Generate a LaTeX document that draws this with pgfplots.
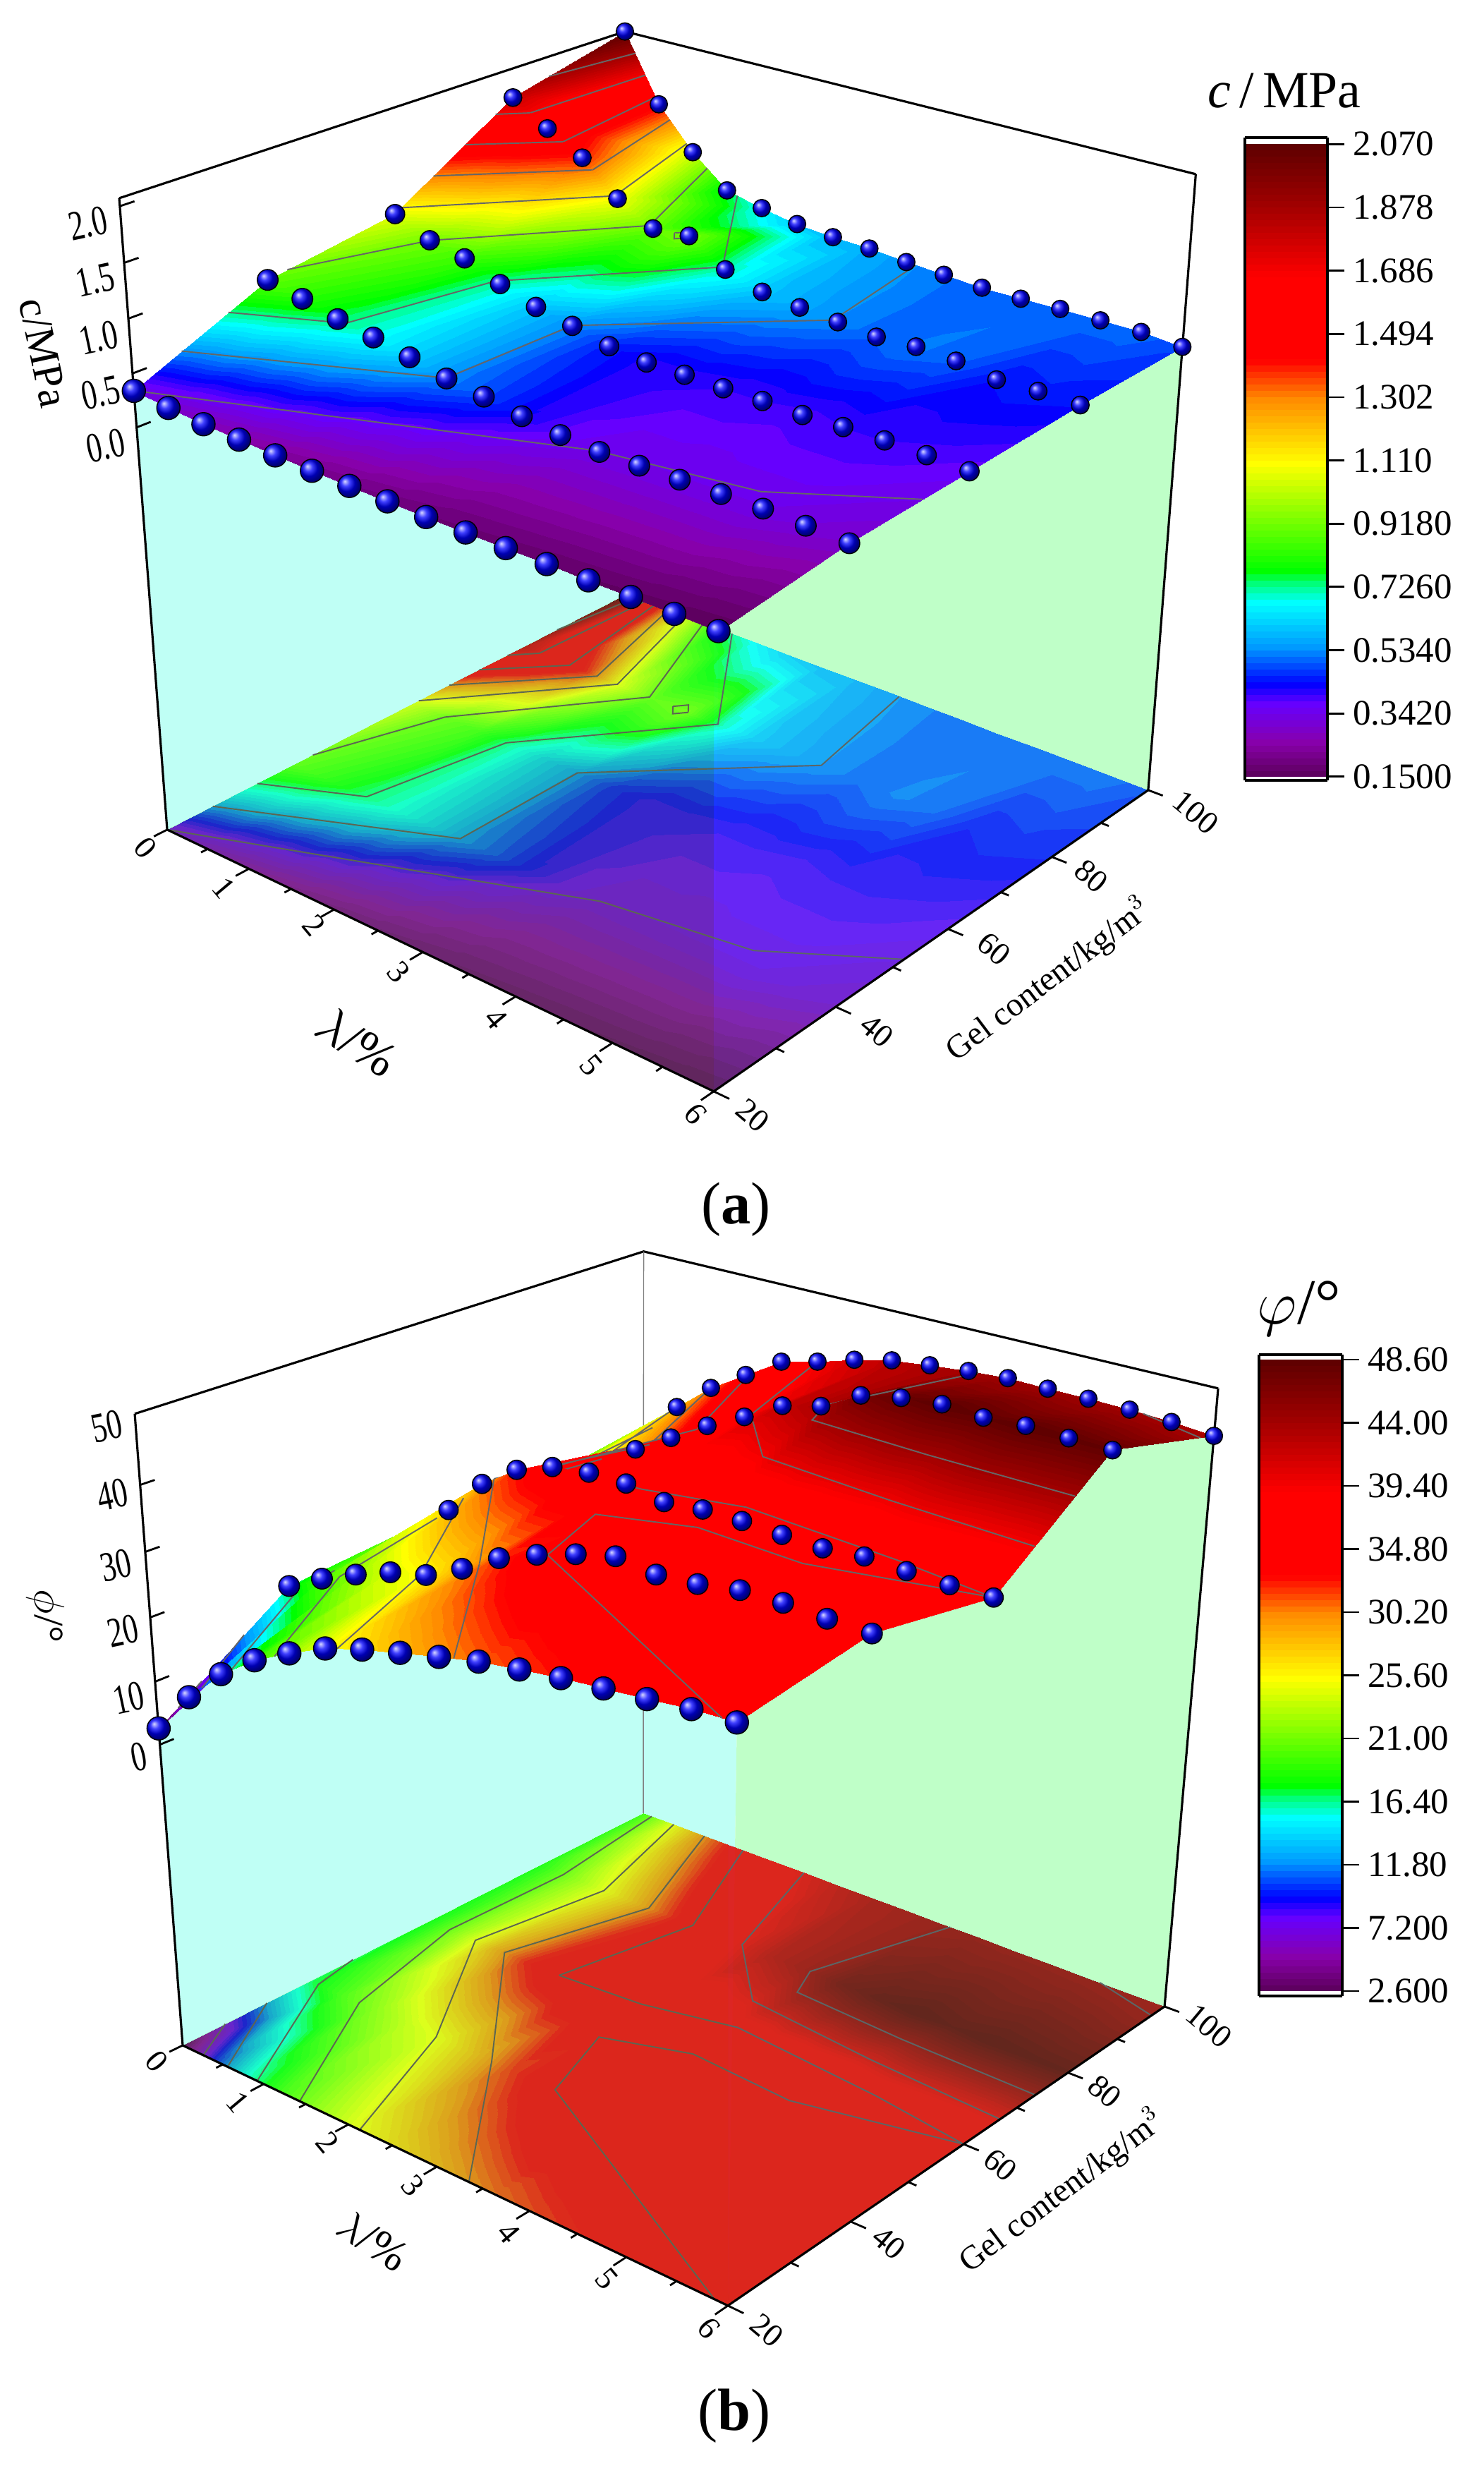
\documentclass[border=0pt]{standalone}
\usepackage{fontspec}
\setmainfont{Liberation Serif}
\usepackage{pgfplots}
\usepackage{pgfplotstable}
\pgfplotsset{compat=1.18}

% cohesion c/MPa, gel content from the back row to the front row
\pgfplotstableread{
l g c
0.0 100 2.07
0.4 100 1.43
0.8 100 1.04
1.2 100 0.75
1.6 100 0.67
2.0 100 0.61
2.4 100 0.58
2.8 100 0.57
3.2 100 0.54
3.6 100 0.52
4.0 100 0.50
4.4 100 0.50
4.8 100 0.51
5.2 100 0.51
5.6 100 0.51
6.0 100 0.48
0.0 80 1.79
0.4 80 1.58
0.8 80 1.39
1.2 80 1.09
1.6 80 0.90
2.0 80 0.93
2.4 80 0.71
2.8 80 0.60
3.2 80 0.56
3.6 80 0.53
4.0 80 0.50
4.4 80 0.52
4.8 80 0.50
5.2 80 0.44
5.6 80 0.45
6.0 80 0.44
0.0 60 1.07
0.4 60 0.92
0.8 60 0.85
1.2 60 0.71
1.6 60 0.60
2.0 60 0.53
2.4 60 0.45
2.8 60 0.41
3.2 60 0.41
3.6 60 0.40
4.0 60 0.40
4.4 60 0.39
4.8 60 0.40
5.2 60 0.40
5.6 60 0.39
6.0 60 0.37
0.0 40 0.89
0.4 40 0.82
0.8 40 0.74
1.2 40 0.68
1.6 40 0.61
2.0 40 0.53
2.4 40 0.48
2.8 40 0.42
3.2 40 0.37
3.6 40 0.34
4.0 40 0.34
4.4 40 0.34
4.8 40 0.34
5.2 40 0.34
5.6 40 0.32
6.0 40 0.30
0.0 20 0.34
0.4 20 0.30
0.8 20 0.27
1.2 20 0.25
1.6 20 0.23
2.0 20 0.215
2.4 20 0.205
2.8 20 0.195
3.2 20 0.185
3.6 20 0.18
4.0 20 0.175
4.4 20 0.17
4.8 20 0.165
5.2 20 0.16
5.6 20 0.155
6.0 20 0.15
}\dataA

% friction angle phi/degree
\pgfplotstableread{
l g c
0.0 100 19.2
0.4 100 25.7
0.8 100 30.5
1.2 100 34.2
1.6 100 37.9
2.0 100 39.4
2.4 100 41.2
2.8 100 42.6
3.2 100 43.3
3.6 100 43.9
4.0 100 44.3
4.4 100 44.2
4.8 100 44.2
5.2 100 44.1
5.6 100 43.8
6.0 100 43.3
0.0 80 18.0
0.4 80 22.0
0.8 80 25.5
1.2 80 28.8
1.6 80 32.3
2.0 80 35.8
2.4 80 38.8
2.8 80 42.1
3.2 80 43.6
3.6 80 46.8
4.0 80 48.0
4.4 80 48.6
4.8 80 48.2
5.2 80 48.6
5.6 80 48.4
6.0 80 48.3
0.0 60 17.5
0.4 60 22.9
0.8 60 28.8
1.2 60 32.7
1.6 60 34.8
2.0 60 35.6
2.4 60 35.6
2.8 60 34.5
3.2 60 35.1
3.6 60 35.1
4.0 60 34.8
4.4 60 34.6
4.8 60 35.2
5.2 60 34.9
5.6 60 34.7
6.0 60 34.8
0.0 40 16.7
0.4 40 19.7
0.8 40 22.2
1.2 40 24.4
1.6 40 25.8
2.0 40 28.6
2.4 40 32.0
2.8 40 34.3
3.2 40 36.2
3.6 40 37.7
4.0 40 36.9
4.4 40 37.4
4.8 40 38.4
5.2 40 38.5
5.6 40 38.2
6.0 40 38.1
0.0 20 2.6
0.4 20 9.6
0.8 20 15.2
1.2 20 19.3
1.6 20 22.3
2.0 20 25.0
2.4 20 26.8
2.8 20 28.3
3.2 20 29.7
3.6 20 31.0
4.0 20 31.9
4.4 20 32.7
4.8 20 33.3
5.2 20 33.9
5.6 20 34.6
6.0 20 34.9
}\dataB

% contour lines at the colour-scale ticks
\pgfplotstableread{
l g v
0 20 0.342
3.57 40 0.342
5.0 43 0.342
6 52 0.342
nan nan nan
0 27 0.534
2.0 40 0.534
2.0 60 0.534
3.55 80 0.534
3.3 100 0.534
nan nan nan
0 34 0.726
0.89 40 0.726
1.15 60 0.726
2.37 80 0.726
1.32 100 0.726
nan nan nan
0 43 0.918
0.4 60 0.918
1.56 80 0.918
0.97 100 0.918
nan nan nan
1.84 80 0.918
1.93 78.5 0.918
2.02 80 0.918
nan nan nan
2.02 80 0.918
1.93 81.5 0.918
1.84 80 0.918
nan nan nan
0 61 1.11
1.17 80 1.11
0.73 100 1.11
nan nan nan
0 66.4 1.302
0.92 80 1.302
0.53 100 1.302
nan nan nan
0 71.8 1.494
0.58 80 1.494
0.36 100 1.494
nan nan nan
0 77 1.686
0.2 80 1.686
0.24 100 1.686
nan nan nan
0 86.3 1.878
0.12 100 1.878
}\contA

\pgfplotstableread{
l g v
0.26 20 7.2
0 26.5 7.2
nan nan nan
0.56 20 11.8
0 33 11.8
nan nan nan
0.92 20 16.4
0.1 40 16.4
0 47 16.4
nan nan nan
1.43 20 21
0.61 40 21
0.26 60 21
0.3 80 21
0.11 100 21
nan nan nan
2.13 20 25.6
1.54 40 25.6
0.58 60 25.6
0.81 80 25.6
0.39 100 25.6
nan nan nan
3.35 20 30.2
2.19 40 30.2
0.94 60 30.2
1.36 80 30.2
0.78 100 30.2
nan nan nan
5.87 20 34.8
2.91 40 34.8
2.6 52 34.8
3.4 56 34.8
4.5 55 34.8
6 60 34.8
nan nan nan
1.26 100 34.8
1.89 80 34.8
1.6 60 34.8
nan nan nan
1.6 60 34.8
2.5 61 34.8
3.4 64 34.8
5 62 34.8
6 60 34.8
nan nan nan
2.0 100 39.4
2.47 80 39.4
3.2 70 39.4
4.6 68 39.4
6 66.8 39.4
nan nan nan
3.7 100 44
3.25 80 44
3.4 75 44
4.6 74 44
6 73.6 44
nan nan nan
5.33 100 44
6 97.2 44
}\contB

\pgfplotsset{
  colormap={originbase}{
    rgb255(0)=(94,0,96) rgb255(95)=(136,0,170) rgb255(215)=(102,0,255)
    rgb255(275)=(0,0,255) rgb255(387)=(0,153,255) rgb255(523)=(0,255,255)
    rgb255(583)=(0,255,120) rgb255(620)=(0,255,0) rgb255(950)=(255,255,0)
    rgb255(1146)=(255,140,0) rgb255(1266)=(255,0,0) rgb255(1520)=(255,0,0)
    rgb255(1730)=(165,0,0) rgb255(1920)=(96,0,0)},
  colormap={origin}{samples of colormap=(100 of originbase)},
  bands/.style={surf,shader=interp,mesh/cols=16,point meta=\thisrow{c},colormap access=piecewise constant},
  strip/.style n args={2}{bands,skip coords between index={0}{#1},skip coords between index={#2}{80}},
  balls/.style n args={3}{only marks,mark=ball,mark size=#3,
    mark options={ball color=blue,draw=none},
    skip coords between index={0}{#1},skip coords between index={#2}{80}},
  con/.style 2 args={restrict y to domain=#1:#2,unbounded coords=jump,black!60,line width=0.55pt,mark=none},
  cube/.style={at={(0,0)},anchor=origin,hide axis,clip=false,disabledatascaling,
    x={(1.2cm,-0.5cm)},y={(0.08cm,0.05cm)},z={(0cm,1cm)},
    xmin=0,xmax=6,ymin=0,ymax=100,colormap name=origin,
    mesh/ordering=x varies,z buffer=none},
  tk/.style={black,line width=0.8pt,mark=none},
  cbar/.style={scale only axis,anchor=south west,xmin=0,xmax=1,xtick=\empty,
    view={0}{90},colormap name=origin,colormap access=piecewise constant,
    ytick pos=right,yticklabel pos=right,tick align=outside,
    major tick length=0.24cm,tick style={black,line width=0.8pt},
    axis line style={line width=1.4pt},
    yticklabel style={font=\fontsize{14.5}{16}\selectfont},
  },
}

% pin-hole camera of the two cubes, fitted on the corners of the reference (pixels)
\makeatletter
\newcommand\camA[3]{\begingroup
  \pgfmathsetmacro\cu{(#1)/6}\pgfmathsetmacro\cv{((#2)-20)/80}\pgfmathsetmacro\ct{((#3)+3.99)/6.06}%
  \pgfmathsetmacro\cw{1-.1206*\cu+.1493*\cv-.09*\ct}%
  \pgfmathsetmacro\cx{.28453*(237+652.9*\cu+784.7*\cv-83.2*\ct)/\cw}%
  \pgfmathsetmacro\cy{.28453*(3498-(1176+184.4*\cu-208.3*\cv-920.3*\ct)/\cw)}%
  \global\pgf@x=\cx pt\global\pgf@y=\cy pt\endgroup}
\newcommand\camB[3]{\begingroup
  \pgfmathsetmacro\cu{(#1)/6}\pgfmathsetmacro\cv{((#2)-20)/80}\pgfmathsetmacro\ct{((#3)+50.6)/101}%
  \pgfmathsetmacro\cw{1-.12608*\cu+.15161*\cv-.095*\ct}%
  \pgfmathsetmacro\cx{.28453*(259+642.9*\cu+791.3*\cv-86.1*\ct)/\cw}%
  \pgfmathsetmacro\cy{.28453*(3498-(2899-43*\cu+60.6*\cv-1085.4*\ct)/\cw)}%
  \global\pgf@x=\cx pt\global\pgf@y=\cy pt\endgroup}
\makeatother

\newcommand\lab[5][]{\node[inner sep=0pt,font=\fontsize{#5}{#5}\selectfont,rotate=#4,#1] at ({#2*0.01},{(3498-#3)*0.01})}
\definecolor{wallL}{RGB}{191,255,245}
\definecolor{wallR}{RGB}{191,255,200}
\definecolor{tintL}{RGB}{230,255,205}
\definecolor{tintR}{RGB}{230,255,255}

\begin{document}
\begin{tikzpicture}
\path[use as bounding box] (0,0) rectangle (21.03,34.98);

% ---------- (a)
\begin{axis}[cube,zmin=-3.99,zmax=2.07,point meta min=0.15,point meta max=2.07,
  execute at begin plot visualization={\let\pgfplotsqpointxyz\camA}]
\addplot3[black,line width=0.9pt,mark=none] coordinates {(0,20,2.07)(0,100,2.07)(6,100,2.07)};
% curtains under the front edges
\addplot3[draw=none,fill=wallL] coordinates {(0,20,0.34)(0.4,20,0.30)(0.8,20,0.27)(1.2,20,0.25)(1.6,20,0.23)(2,20,0.215)(2.4,20,0.205)(2.8,20,0.195)(3.2,20,0.185)(3.6,20,0.18)(4,20,0.175)(4.4,20,0.17)(4.8,20,0.165)(5.2,20,0.16)(5.6,20,0.155)(6,20,0.15)(6,20,-3.99)(0,20,-3.99)};
\addplot3[draw=none,fill=wallR] coordinates {(6,20,0.15)(6,40,0.30)(6,60,0.37)(6,80,0.44)(6,100,0.48)(6,100,-3.99)(6,20,-3.99)};
% floor, seen through the curtains
\addplot3[bands,opacity=0.85] table[x=l,y=g,z expr=-3.99]{\dataA};
\addplot3[con={0}{100}] table[x=l,y=g,z expr=-3.99]{\contA};
\addplot3[draw=none,fill=tintL,blend mode=multiply] coordinates {(0,20,-3.99)(6,20,-3.99)(1.095,100,-3.99)(0,100,-3.99)};
\addplot3[draw=none,fill=tintR,blend mode=multiply] coordinates {(6,20,-3.99)(6,100,-3.99)(1.095,100,-3.99)};
\addplot3[black,line width=0.9pt,mark=none] coordinates {(0,20,2.07)(0,20,-3.99)(6,20,-3.99)(6,100,-3.99)(6,100,2.07)};
% surface and spheres, back to front
\addplot3[balls={0}{16}{3.5pt}] table[x=l,y=g,z=c]{\dataA};
\addplot3[strip={0}{32}] table[x=l,y=g,z=c]{\dataA};
\addplot3[con={80}{100}] table[x=l,y=g,z=v]{\contA};
\addplot3[balls={16}{32}{3.6pt}] table[x=l,y=g,z=c]{\dataA};
\addplot3[strip={16}{48}] table[x=l,y=g,z=c]{\dataA};
\addplot3[con={60}{80}] table[x=l,y=g,z=v]{\contA};
\addplot3[balls={32}{48}{3.9pt}] table[x=l,y=g,z=c]{\dataA};
\addplot3[strip={32}{64}] table[x=l,y=g,z=c]{\dataA};
\addplot3[con={40}{60}] table[x=l,y=g,z=v]{\contA};
\addplot3[balls={48}{64}{4.2pt}] table[x=l,y=g,z=c]{\dataA};
\addplot3[strip={48}{80}] table[x=l,y=g,z=c]{\dataA};
\addplot3[con={20}{40}] table[x=l,y=g,z=v]{\contA};
\addplot3[balls={64}{80}{4.7pt}] table[x=l,y=g,z=c]{\dataA};
% ticks
\pgfplotsinvokeforeach{0,1,...,6}{\addplot3[tk] coordinates {(#1,20,-3.99)(#1,18,-3.99)};}
\pgfplotsinvokeforeach{0.5,1.5,...,5.5}{\addplot3[tk] coordinates {(#1,20,-3.99)(#1,19,-3.99)};}
\pgfplotsinvokeforeach{20,40,...,100}{\addplot3[tk] coordinates {(6,#1,-3.99)(6.15,#1,-3.99)};}
\pgfplotsinvokeforeach{30,50,...,90}{\addplot3[tk] coordinates {(6,#1,-3.99)(6.08,#1,-3.99)};}
\pgfplotsinvokeforeach{0,0.5,...,2}{\addplot3[tk] coordinates {(0,20,#1)(0,22,#1)};}
\end{axis}

% ---------- (b)
\begin{axis}[cube,zmin=-50.6,zmax=50.4,point meta min=2.6,point meta max=48.6,
  execute at begin plot visualization={\let\pgfplotsqpointxyz\camB}]
\addplot3[black,line width=0.9pt,mark=none] coordinates {(0,20,50.4)(0,100,50.4)(6,100,50.4)};
\addplot3[draw=none,fill=wallL] coordinates {(0,20,2.6)(0.4,20,9.6)(0.8,20,15.2)(1.2,20,19.3)(1.6,20,22.3)(2,20,25)(2.4,20,26.8)(2.8,20,28.3)(3.2,20,29.7)(3.6,20,31)(4,20,31.9)(4.4,20,32.7)(4.8,20,33.3)(5.2,20,33.9)(5.6,20,34.6)(6,20,34.9)(6,20,-50.6)(0,20,-50.6)};
\addplot3[draw=none,fill=wallR] coordinates {(6,20,34.9)(6,40,38.1)(6,60,34.8)(6,80,48.3)(6,100,43.3)(6,100,-50.6)(6,20,-50.6)};
\addplot3[bands,opacity=0.85] table[x=l,y=g,z expr=-50.6]{\dataB};
\addplot3[con={0}{100}] table[x=l,y=g,z expr=-50.6]{\contB};
\addplot3[draw=none,fill=tintL,blend mode=multiply] coordinates {(0,20,-50.6)(6,20,-50.6)(1.073,100,-50.6)(0,100,-50.6)};
\addplot3[draw=none,fill=tintR,blend mode=multiply] coordinates {(6,20,-50.6)(6,100,-50.6)(1.073,100,-50.6)};
\addplot3[black!50,line width=0.4pt,mark=none] coordinates {(0,100,-50.6)(0,100,50.4)};
\addplot3[black,line width=0.9pt,mark=none] coordinates {(0,20,50.4)(0,20,-50.6)(6,20,-50.6)(6,100,-50.6)(6,100,50.4)};
\addplot3[balls={1}{16}{3.5pt}] table[x=l,y=g,z=c]{\dataB};
\addplot3[strip={0}{32}] table[x=l,y=g,z=c]{\dataB};
\addplot3[con={80}{100}] table[x=l,y=g,z=v]{\contB};
\addplot3[balls={19}{32}{3.6pt}] table[x=l,y=g,z=c]{\dataB};
\addplot3[strip={16}{48}] table[x=l,y=g,z=c]{\dataB};
\addplot3[con={60}{80}] table[x=l,y=g,z=v]{\contB};
\addplot3[balls={33}{48}{3.9pt}] table[x=l,y=g,z=c]{\dataB};
\addplot3[strip={32}{64}] table[x=l,y=g,z=c]{\dataB};
\addplot3[con={40}{60}] table[x=l,y=g,z=v]{\contB};
\addplot3[balls={48}{64}{4.2pt}] table[x=l,y=g,z=c]{\dataB};
\addplot3[strip={48}{80}] table[x=l,y=g,z=c]{\dataB};
\addplot3[con={20}{40}] table[x=l,y=g,z=v]{\contB};
\addplot3[balls={64}{80}{4.7pt}] table[x=l,y=g,z=c]{\dataB};
\pgfplotsinvokeforeach{0,1,...,6}{\addplot3[tk] coordinates {(#1,20,-50.6)(#1,18,-50.6)};}
\pgfplotsinvokeforeach{0.5,1.5,...,5.5}{\addplot3[tk] coordinates {(#1,20,-50.6)(#1,19,-50.6)};}
\pgfplotsinvokeforeach{20,40,...,100}{\addplot3[tk] coordinates {(6,#1,-50.6)(6.15,#1,-50.6)};}
\pgfplotsinvokeforeach{30,50,...,90}{\addplot3[tk] coordinates {(6,#1,-50.6)(6.08,#1,-50.6)};}
\pgfplotsinvokeforeach{0,10,...,40}{\addplot3[tk] coordinates {(0,20,#1)(0,22,#1)};}
\end{axis}

% ---------- colour scales
\begin{axis}[cbar,at={(17.65cm,23.92cm)},width=1.17cm,height=9.11cm,ymin=0.139,ymax=2.09,
  point meta min=0.15,point meta max=2.07,
  ytick={0.15,0.342,0.534,0.726,0.918,1.11,1.302,1.494,1.686,1.878,2.07},
  yticklabels={0.1500,0.3420,0.5340,0.7260,0.9180,1.110,1.302,1.494,1.686,1.878,2.070}]
\addplot3[surf,shader=interp] coordinates {(0,0.15,0.15)(1,0.15,0.15)

(0,2.07,2.07)(1,2.07,2.07)};
\end{axis}
\begin{axis}[cbar,at={(17.85cm,6.69cm)},width=1.18cm,height=9.09cm,ymin=2.24,ymax=48.96,
  point meta min=2.6,point meta max=48.6,
  ytick={2.6,7.2,11.8,16.4,21,25.6,30.2,34.8,39.4,44,48.6},
  yticklabels={2.600,7.200,11.80,16.40,21.00,25.60,30.20,34.80,39.40,44.00,48.60}]
\addplot3[surf,shader=interp] coordinates {(0,2.6,2.6)(1,2.6,2.6)

(0,48.6,48.6)(1,48.6,48.6)};
\end{axis}

% ---------- text (a)
\lab[xscale=.72]{125}{315}{12}{17}{2.0};
\lab[xscale=.72]{135}{395}{12}{17}{1.5};
\lab[xscale=.72]{140}{477}{12}{17}{1.0};
\lab[xscale=.72]{143}{555}{12}{17}{0.5};
\lab[xscale=.72]{150}{630}{12}{17}{0.0};
\lab{62}{498}{-78}{17}{c/MPa};
\lab{206}{1200}{-50}{13}{0};
\lab{318}{1257}{-50}{13}{1};
\lab{446}{1310}{-50}{13}{2};
\lab{566}{1377}{-50}{13}{3};
\lab{704}{1442}{-50}{13}{4};
\lab{839}{1509}{-50}{13}{5};
\lab{987}{1578}{-50}{13}{6};
\lab{1068}{1580}{-40}{13}{20};
\lab{1244}{1460}{-40}{13}{40};
\lab{1410}{1344}{-40}{13}{60};
\lab{1548}{1241}{-40}{13}{80};
\lab{1696}{1150}{-40}{13}{100};
\lab{507}{1475}{-33}{20}{$\lambda$/\%};
\lab{1487}{1388}{37}{13.5}{Gel content/kg/m$^{3}$};
\lab{1822}{127}{0}{21}{\textit{c}\,/\,MPa};
\lab{1044}{1713}{0}{24}{(\textbf{a})};
% ---------- text (b)
\lab[xscale=.72]{152}{2021}{12}{17}{50};
\lab[xscale=.72]{160}{2118}{12}{17}{40};
\lab[xscale=.72]{165}{2218}{12}{17}{30};
\lab[xscale=.72]{175}{2311}{12}{17}{20};
\lab[xscale=.72]{183}{2406}{12}{17}{10};
\lab[xscale=.72]{197}{2490}{12}{17}{0};
\lab{65}{2290}{-90}{17}{$\phi$/\textdegree};
\lab{222}{2921}{-50}{13}{0};
\lab{338}{2979}{-50}{13}{1};
\lab{465}{3036}{-50}{13}{2};
\lab{586}{3097}{-50}{13}{3};
\lab{722}{3164}{-50}{13}{4};
\lab{861}{3230}{-50}{13}{5};
\lab{1006}{3300}{-50}{13}{6};
\lab{1088}{3303}{-40}{13}{20};
\lab{1261}{3179}{-40}{13}{40};
\lab{1419}{3068}{-40}{13}{60};
\lab{1567}{2964}{-40}{13}{80};
\lab{1715}{2871}{-40}{13}{100};
\lab{529}{3176}{-33}{18}{$\lambda$/\%};
\lab{1506}{3106}{37}{13.5}{Gel content/kg/m$^{3}$};
\lab{1843}{1854}{0}{26}{$\varphi$/\textdegree};
\lab{1042}{3424}{0}{24}{(\textbf{b})};
\end{tikzpicture}
\end{document}
